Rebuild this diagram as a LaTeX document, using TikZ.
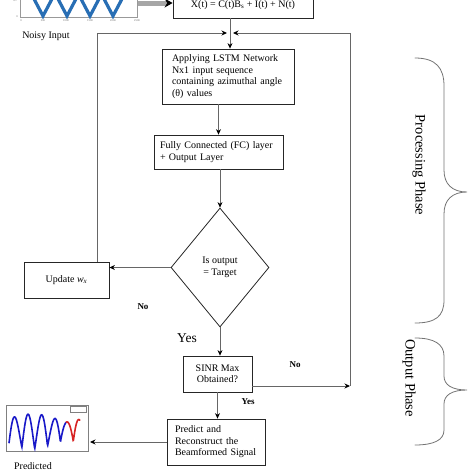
\documentclass[tikz,border=0pt]{standalone}
\usepackage{fontspec}
\setmainfont{Liberation Serif}
\usetikzlibrary{arrows.meta,shapes.geometric}
\definecolor{blu}{RGB}{40,110,180}
\definecolor{blus}{RGB}{25,25,200}
\definecolor{rosso}{RGB}{215,35,35}

\begin{document}
\begin{tikzpicture}[x=1pt, y=-1pt,
	>={Stealth[black,length=5.5pt,width=5pt]}, line width=0.6pt,
	blocco/.style={draw=black!85, line width=0.8pt, inner sep=0pt, font=\fontsize{10}{11.5}\selectfont},
	rombo/.style={blocco, diamond, minimum width=98pt, minimum height=119pt, align=center},
	freccia/.style={->, draw=black!60, line width=0.8pt},
	linea/.style={draw=black!60, line width=0.8pt},
	etich/.style={font=\bfseries\fontsize{9}{10}\selectfont},
	tacca/.style={font=\fontsize{2.8}{3}\selectfont, text=black!60, inner sep=0pt},
	graffa/.style={draw=black!55, line width=0.8pt, line cap=round},
	fase/.style={rotate=-90, font=\fontsize{14.5}{16}\selectfont}]
	\clip (0,0) rectangle (474,474);
	
	%% blocchi del diagramma
	\node[blocco, minimum width=140pt, minimum height=26pt] (eq) at (243,5) {X(t) = C(t)B\textsubscript{s} + I(t) + N(t)};
	\node[blocco, minimum width=132pt, minimum height=55pt, text width=112pt, align=left] (lstm) at (228,76.5)
		{Applying LSTM Network\\ Nx1 input sequence\\ containing azimuthal angle\\ (θ) values};
	\node[blocco, minimum width=129pt, minimum height=34pt, text width=117pt, align=left] (fc) at (218.5,152)
		{Fully Connected (FC) layer\\ + Output Layer};
	\node[rombo] (dec) at (220,267.5) {Is output\\ = Target};
	\node[blocco, minimum width=85pt, minimum height=36pt] (upd) at (66.5,280) {Update \textit{w}\textsubscript{\textit{x}}};
	\node[blocco, minimum width=69pt, minimum height=36pt, align=center] (sinr) at (217.5,374) {SINR Max\\ Obtained?};
	\node[blocco, minimum width=98pt, minimum height=46pt, text width=82pt, align=left] (pred) at (216,442)
		{Predict and\\ Reconstruct the\\ Beamformed Signal};
	
	%% etichette
	\node[font=\fontsize{10}{12}\selectfont] (noisylab) at (46,36) {Noisy Input};
	\node[font=\fontsize{10}{12}\selectfont, anchor=north, inner sep=0pt] (predlab) at (33,462) {Predicted};
	\node[etich] (no1) at (143,307) {No};
	\node[font=\fontsize{13.5}{15}\selectfont] (yes1) at (187,338) {Yes};
	\node[etich] (no2) at (295,365) {No};
	\node[etich] (yes2) at (248,402) {Yes};
	
	%% punti di giunzione
	\coordinate (jc) at (230,33);
	\coordinate (jl) at (227,33);
	\coordinate (jr) at (233,33);
	\coordinate (lc) at (97,33);
	\coordinate (rc) at (350,33);
	\coordinate (rb) at (350,386);
	\coordinate (rumore) at (137,3);
	\coordinate (uscita) at (90,442);
	
	%% collegamenti
	\draw[line width=5pt, draw=black!35, -{Stealth[black,length=8pt,width=9pt]}] (rumore) -- (rumore -| eq.west);
	\draw[freccia] (jc |- eq.south) -- (jc |- lstm.north);
	\draw[freccia] (lc |- upd.north) -- (lc) -- (jl);
	\draw[freccia] (rc) -- (jr);
	\draw[linea] (rc) -- (rb);
	\draw[freccia] (sinr.east |- rb) -- (rb);
	\draw[freccia] (fc.north |- lstm.south) -- (fc.north);
	\draw[freccia] (dec.north |- fc.south) -- (dec.north);
	\draw[freccia] (dec.west) -- (dec.west -| upd.east);
	\draw[freccia] (dec.south) -- (dec.south |- sinr.north);
	\draw[freccia] (sinr.south) -- (sinr.south |- pred.north);
	\draw[freccia] (pred.west) -- (uscita);
	
	%% graffe delle fasi
	\draw[graffa] (415,58) .. controls (436,58) and (444,68) .. (444,86) -- (444,170)
		.. controls (444,184) and (452,192) .. (467,192) .. controls (452,192) and (444,200) .. (444,214)
		-- (444,300) .. controls (444,316) and (436,323) .. (415,323);
	\draw[graffa] (415,338) .. controls (434,338) and (444,344) .. (444,356) -- (444,376)
		.. controls (444,385) and (452,390) .. (467,390) .. controls (452,390) and (444,395) .. (444,404)
		-- (444,430) .. controls (444,440) and (434,445) .. (415,445);
	\node[fase] (proc) at (419,165) {Processing Phase};
	\node[fase] (outph) at (409,378) {Output Phase};
	
	%% grafico del segnale rumoroso (in alto)
	\draw[black!40, line width=0.4pt] (20,-2) -- (20,17) -- (137,17) -- (137,-2);
	\foreach \t in {43,67,90,113}
		\draw[blu, line width=3.2pt] (\t-10,-3) -- (\t,16) -- (\t+10,-3);
	\foreach \v/\xx in {0/21,500/43,1000/66,1500/90,2000/113,2500/137}
		\node[tacca] (t\v) at (\xx,20.5) {\v};
	\node[tacca] (ya) at (15,1) {0.1};
	\node[tacca] (yb) at (17,17) {0};
	
	%% grafico del segnale ricostruito (in basso)
	\draw[black!50, line width=0.4pt] (6,405) rectangle (88,451);
	\draw[blus, line width=1.6pt] plot[domain=9:66, samples=160] (\x, {445 - 27*abs(sin(14*(\x-9))) + 4*sin(23*\x)});
	\draw[rosso, line width=1.6pt] plot[domain=66:80, samples=50] (\x, {445 - 27*abs(sin(14*(\x-9))) + 4*sin(23*\x)});
	\draw[black!50, line width=0.3pt] (70,406) rectangle (86,412);
\end{tikzpicture}
\end{document}
